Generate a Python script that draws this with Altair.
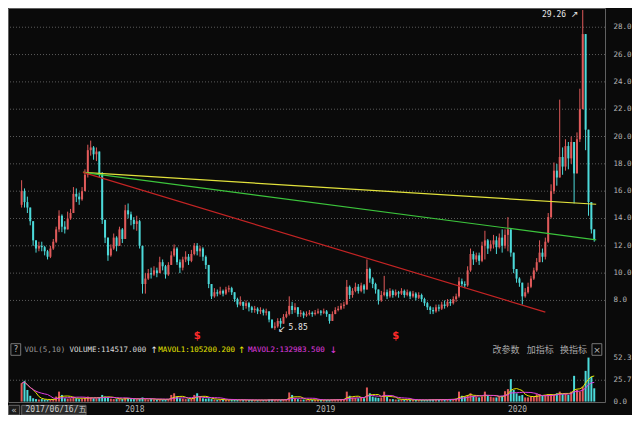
import altair as alt
import pandas as pd

# ---------------- data ----------------
first_open = 15.0
close = [
    16.0, 15.2, 14.8, 13.8, 12.4, 11.8, 12.0, 11.9, 11.6, 11.2,
    11.8, 12.3, 13.2, 14.2, 13.4, 13.2, 14.0, 14.4, 15.8, 15.6,
    15.4, 16.0, 17.2, 19.0, 19.2, 18.7, 18.9, 17.3, 13.9, 12.6,
    11.3, 11.8, 12.6, 12.0, 13.2, 12.5, 14.6, 14.3, 13.9, 13.6,
    13.8, 12.0, 9.2, 9.6, 10.0, 9.9, 10.2, 10.0, 10.8, 10.5,
    9.9, 10.6, 11.3, 11.8, 10.8, 10.4, 11.0, 11.2, 10.9, 11.4,
    12.0, 11.6, 11.8, 11.2, 10.6, 9.2, 8.3, 8.6, 8.5, 8.7,
    8.5, 8.8, 8.9, 8.6, 8.1, 7.7, 7.9, 7.6, 7.8, 7.5,
    7.3, 7.4, 7.2, 7.3, 7.1, 7.2, 6.6, 6.0, 6.1, 6.5,
    6.3, 6.8, 7.0, 7.6, 7.3, 7.5, 7.0, 7.1, 6.9, 7.0,
    7.1, 7.0, 7.1, 7.2, 7.1, 7.2, 7.0, 6.5, 7.0, 7.3,
    7.4, 7.6, 7.7, 9.0, 8.4, 8.7, 9.0, 8.7, 9.1, 8.8,
    10.3, 9.6, 9.2, 8.8, 8.0, 8.4, 8.6, 8.3, 8.7, 8.4,
    8.6, 8.5, 8.7, 8.4, 8.6, 8.3, 8.5, 8.2, 8.4, 8.1,
    7.8, 7.5, 7.3, 7.2, 7.5, 7.4, 7.7, 7.6, 7.9, 7.8,
    8.1, 8.3, 9.4, 9.2, 9.1, 10.2, 11.4, 11.0, 11.3, 10.9,
    12.0, 12.4, 11.8, 12.1, 12.4, 11.9, 12.6, 12.0, 12.8, 13.2,
    11.5, 10.3, 9.6, 9.3, 8.3, 8.6, 9.0, 9.6, 10.2, 10.8,
    11.5, 11.2, 12.3, 14.1, 16.0, 17.5, 17.0, 18.5, 17.8, 19.3,
    18.4, 19.6, 17.3, 19.8, 22.0, 27.5, 20.5, 15.2, 13.2, 12.5,
]
high = [
    16.8, 16.2, 15.6, 14.8, 13.6, 12.4, 12.3, 12.3, 12.0, 11.7,
    12.0, 12.5, 13.4, 14.6, 14.3, 13.8, 14.5, 14.7, 16.3, 16.2,
    15.9, 16.3, 17.6, 19.4, 19.7, 19.3, 19.2, 18.9, 17.4, 13.8,
    12.6, 12.1, 12.9, 12.7, 13.4, 13.3, 15.0, 15.1, 14.5, 14.1,
    14.2, 13.9, 12.0, 10.0, 10.3, 10.4, 10.5, 10.4, 11.2, 11.0,
    10.6, 10.8, 11.6, 12.1, 11.9, 11.0, 11.2, 11.6, 11.4, 11.7,
    12.2, 12.2, 12.0, 11.9, 11.3, 10.6, 9.2, 8.9, 8.8, 9.0,
    8.8, 9.0, 9.1, 9.0, 8.6, 8.2, 8.3, 7.9, 8.0, 7.9,
    7.6, 7.6, 7.5, 7.5, 7.4, 7.4, 7.2, 6.6, 6.4, 6.7,
    6.7, 7.0, 7.2, 8.3, 7.9, 7.8, 7.5, 7.3, 7.2, 7.2,
    7.3, 7.2, 7.3, 7.4, 7.3, 7.4, 7.3, 7.0, 7.2, 7.5,
    7.6, 7.8, 7.9, 9.5, 9.1, 8.9, 9.3, 9.2, 9.3, 9.2,
    11.0, 10.4, 9.7, 9.3, 8.8, 8.7, 9.8, 8.8, 8.9, 8.8,
    8.8, 8.7, 8.9, 8.8, 8.8, 8.7, 8.7, 8.6, 8.6, 8.5,
    8.2, 7.9, 7.6, 7.5, 7.7, 7.7, 7.9, 8.0, 8.1, 8.1,
    8.3, 8.5, 9.7, 9.6, 9.4, 10.5, 11.8, 11.6, 11.5, 11.5,
    12.3, 13.1, 12.5, 12.4, 12.8, 12.7, 12.9, 13.2, 13.2, 14.1,
    13.2, 11.2, 10.3, 9.7, 9.3, 8.9, 9.3, 9.8, 10.4, 11.1,
    12.4, 11.8, 12.6, 14.4, 16.5, 18.1, 18.0, 22.7, 19.2, 19.8,
    19.6, 20.0, 19.5, 20.3, 23.5, 29.26, 23.6, 17.9, 13.8, 13.0,
]
low = [
    14.8, 14.8, 14.4, 13.5, 12.0, 11.5, 11.6, 11.6, 11.3, 11.0,
    11.1, 11.7, 12.2, 13.0, 13.0, 12.9, 13.2, 13.9, 14.4, 15.2,
    15.0, 15.3, 16.0, 17.0, 18.6, 18.3, 18.2, 17.0, 13.6, 12.2,
    10.9, 11.2, 11.7, 11.6, 12.0, 12.2, 12.6, 14.0, 13.5, 13.2,
    13.1, 11.8, 8.5, 8.5, 9.5, 9.6, 9.8, 9.7, 10.0, 10.2,
    9.6, 9.8, 10.6, 11.2, 10.6, 10.0, 10.2, 10.8, 10.6, 10.8,
    11.3, 11.3, 11.2, 10.9, 10.3, 8.9, 8.1, 8.2, 8.3, 8.4,
    8.3, 8.4, 8.6, 8.4, 7.9, 7.5, 7.6, 7.3, 7.4, 7.2,
    7.1, 7.1, 7.0, 7.0, 6.9, 6.9, 6.4, 5.95, 5.85, 6.0,
    6.0, 6.3, 6.7, 6.9, 7.0, 7.1, 6.8, 6.8, 6.7, 6.8,
    6.9, 6.8, 6.9, 7.0, 6.9, 7.0, 6.8, 6.3, 6.5, 7.0,
    7.2, 7.3, 7.4, 7.7, 8.1, 8.2, 8.6, 8.5, 8.6, 8.5,
    8.8, 9.3, 8.9, 8.5, 7.7, 7.9, 8.3, 8.1, 8.2, 8.2,
    8.3, 8.2, 8.4, 8.2, 8.3, 8.1, 8.2, 8.0, 8.1, 7.9,
    7.6, 7.3, 7.0, 7.0, 7.1, 7.2, 7.3, 7.4, 7.5, 7.6,
    7.7, 7.9, 8.2, 9.0, 8.9, 9.0, 10.1, 10.6, 10.8, 10.6,
    10.8, 11.0, 11.4, 11.6, 11.8, 11.4, 11.8, 11.5, 11.8, 11.6,
    11.2, 10.0, 9.3, 9.0, 7.7, 8.2, 8.5, 8.9, 9.5, 10.1,
    10.9, 10.8, 11.0, 12.2, 14.0, 15.8, 16.4, 17.0, 17.2, 17.5,
    17.6, 18.0, 15.1, 17.3, 19.6, 22.0, 19.0, 14.2, 12.9, 12.3,
]
volume = [
    22, 25, 14, 7, 4, 3, 2.5, 3, 2.5, 2,
    2.5, 3, 6, 12, 8, 4, 3.5, 4, 6, 4,
    3, 3.5, 4.5, 6, 5, 4, 4, 5, 8, 6,
    5, 3.5, 3, 3, 3.5, 3, 4.5, 4, 3, 3,
    3, 3.5, 5, 3, 2.5, 3, 2.5, 2.5, 3, 2.5,
    2.5, 3, 8, 10, 6, 4, 3.5, 3, 3, 3.5,
    8, 10, 6, 4, 3.5, 4, 3, 2.5, 2, 2,
    2.5, 2, 2, 2.5, 2.5, 2, 2, 2, 1.8, 1.8,
    2, 1.8, 1.8, 2, 1.8, 2, 2.5, 2.5, 2, 2,
    2, 2.5, 3, 11, 8, 4, 3, 2.5, 2.5, 2,
    2, 2, 2, 2, 2, 2, 2, 2, 2.5, 2.5,
    2.5, 2.5, 3, 12, 7, 5, 4.5, 4, 5, 4,
    17, 10, 6, 5, 4.5, 5, 12, 6, 3, 3,
    2.5, 2.5, 2.5, 2.5, 2, 2, 2, 2, 2, 2,
    2, 2, 2.5, 2.5, 2.5, 2.5, 2.5, 2.5, 2.5, 3,
    3, 3.5, 12, 7, 6, 8, 10, 7, 6, 5,
    6, 12, 8, 6, 5, 5, 6, 7, 12.5, 15,
    27, 14, 10, 7, 8, 5, 5, 6, 6, 9,
    9, 7, 8, 9, 9, 8, 10, 12, 9, 10,
    8, 12, 31, 14, 12, 18, 37, 53, 30, 16,
]
price_ticks = [8, 10, 12, 14, 16, 18, 20, 22, 24, 26, 28]
vol_ticks = [0, 25.7, 52.3]
vol_grid = [25.7]
dividend_idx = [61, 130]
year_idx = [36, 102.33, 169]
year_lbl = ["2018", "2019", "2020"]
trend_x1 = [21.33, 21.33, 21.33]
trend_y1 = [17.37, 17.37, 17.37]
trend_x2 = [199.67, 199.67, 182.0]
trend_y2 = [15.04, 12.44, 7.15]
trend_col = ["#e2e23c", "#3cc43c", "#c42424"]

# ---------------- tables ----------------
UP, DN = "#e05a5a", "#4cdada"
n = len(close)
opens = [first_open] + close[:-1]
df = pd.DataFrame({"i": list(range(n)), "open": opens, "close": close,
                   "high": high, "low": low, "vol": volume})
df["high"] = df[["high", "open", "close"]].max(axis=1)
df["low"] = df[["low", "open", "close"]].min(axis=1)
df["col"] = [UP if c >= o else DN for o, c in zip(df["open"], df["close"])]

trend = pd.DataFrame({"x1": trend_x1, "y1": trend_y1, "x2": trend_x2,
                      "y2": trend_y2, "c": trend_col})
pk = df.loc[df["high"].idxmax()]
lo = df.loc[df["low"].idxmin()]
pk_df = pd.DataFrame({"i": [pk["i"]], "v": [pk["high"]], "t": [f"{pk['high']:.2f}"]})
lo_df = pd.DataFrame({"i": [lo["i"]], "v": [lo["low"]], "t": [f"{lo['low']:.2f}"]})
div_df = pd.DataFrame({"i": dividend_idx})
vgrid_df = pd.DataFrame({"v": vol_grid})
ptick_df = pd.DataFrame({"v": price_ticks})
vtick_df = pd.DataFrame({"v": vol_ticks})
year_df = pd.DataFrame({"i": year_idx, "l": year_lbl})

MONO = "DejaVu Sans Mono"
CJK = "Noto Sans CJK SC"
BG = "#0a0a0a"
GRID = "#5c5c5c"
LBL = "#b4b4b4"

W, H = 597, 394
xs = alt.Scale(domain=[-3, 201], nice=False, zero=False)
ps = alt.Scale(domain=[0.566, 29.408], nice=False, zero=False)
vs = alt.Scale(domain=[-0.5, 474], nice=False, zero=False)

X = alt.X("i:Q", scale=xs, axis=None)
col = alt.Color("col:N", scale=None)
base = alt.Chart(df)

# ---------------- price panel ----------------
pgrid = alt.Chart(ptick_df).mark_rule(color=GRID, strokeDash=[1, 2]).encode(
    y=alt.Y("v:Q", scale=ps, axis=None))
plbl = alt.Chart(ptick_df).mark_text(align="left", baseline="middle", color=LBL,
                                     font=MONO, fontSize=7.5).encode(
    x=alt.value(605.5), y=alt.Y("v:Q", scale=ps, axis=None),
    text=alt.Text("v:Q", format=".1f"))
wick = base.mark_rule(strokeWidth=1).encode(
    x=X, y=alt.Y("low:Q", scale=ps, axis=None), y2="high:Q", color=col)
body = base.mark_bar(width=2).encode(
    x=X, y=alt.Y("open:Q", scale=ps, axis=None), y2="close:Q", color=col)
tl = alt.Chart(trend).mark_rule(strokeWidth=1.2).encode(
    x=alt.X("x1:Q", scale=xs, axis=None), x2="x2:Q",
    y=alt.Y("y1:Q", scale=ps, axis=None), y2="y2:Q",
    color=alt.Color("c:N", scale=None))
pk_t = alt.Chart(pk_df).mark_text(align="right", baseline="middle", dx=-16.6, dy=4.7,
                                  color="#e8e8e8", font=MONO, fontSize=8).encode(
    x=X, y=alt.Y("v:Q", scale=ps, axis=None), text="t:N")
pk_a = alt.Chart(pk_df).mark_text(text="↗", align="center", baseline="middle", dx=-8, dy=3.5,
                                  color="#e8e8e8", font="DejaVu Sans", fontSize=9).encode(
    x=X, y=alt.Y("v:Q", scale=ps, axis=None))
lo_t = alt.Chart(lo_df).mark_text(align="left", baseline="middle", dx=13.6, dy=-2,
                                  color="#e8e8e8", font=MONO, fontSize=8).encode(
    x=X, y=alt.Y("v:Q", scale=ps, axis=None), text="t:N")
lo_a = alt.Chart(lo_df).mark_text(text="↙", align="center", baseline="middle", dx=7, dy=-1,
                                  color="#e8e8e8", font="DejaVu Sans", fontSize=9).encode(
    x=X, y=alt.Y("v:Q", scale=ps, axis=None))
divm = alt.Chart(div_df).mark_text(text="$", align="center", baseline="middle",
                                   color="#ff2a2a", font="DejaVu Sans", fontSize=10,
                                   fontWeight="bold").encode(x=X, y=alt.value(328))
ylbl = alt.Chart(year_df).mark_text(align="left", baseline="top", color=LBL,
                                    font=MONO, fontSize=8).encode(
    x=X, y=alt.value(398), text="l:N")

price = alt.layer(pgrid, plbl, wick, body, tl, pk_t, pk_a, lo_t, lo_a, divm, ylbl)

# ---------------- volume panel ----------------
vg = alt.Chart(vgrid_df).mark_rule(color=GRID, strokeDash=[1, 2]).encode(
    y=alt.Y("v:Q", scale=vs, axis=None))
vlbl = alt.Chart(vtick_df).mark_text(align="left", baseline="middle", color=LBL,
                                     font=MONO, fontSize=7.5).encode(
    x=alt.value(605.5), y=alt.Y("v:Q", scale=vs, axis=None),
    text=alt.Text("v:Q", format=".1f"))
vb = base.mark_bar(width=2).encode(
    x=X, y=alt.Y("vol:Q", scale=vs, axis=None), y2=alt.datum(0), color=col)
ma1 = base.transform_window(ma="mean(vol)", frame=[-4, 0], sort=[alt.SortField("i")]
                            ).mark_line(color="#e6e600", strokeWidth=1).encode(
    x=X, y=alt.Y("ma:Q", scale=vs, axis=None))
ma2 = base.transform_window(ma="mean(vol)", frame=[-9, 0], sort=[alt.SortField("i")]
                            ).mark_line(color="#e03ce0", strokeWidth=1).encode(
    x=X, y=alt.Y("ma:Q", scale=vs, axis=None))
vol = alt.layer(vg, vlbl, vb, ma1, ma2)


def txt(s, x, y, color, size=7.5, font=MONO, align="left"):
    return alt.Chart(alt.Data(values=[{"a": 1}])).mark_text(
        text=s, align=align, baseline="middle", color=color, fontSize=size, font=font
    ).encode(x=alt.value(x), y=alt.value(y))


def box(x1, x2, y1, y2, fill, stroke):
    return alt.Chart(alt.Data(values=[{"a": 1}])).mark_rect(
        fill=fill, stroke=stroke, strokeWidth=1
    ).encode(x=alt.value(x1), x2=alt.value(x2), y=alt.value(y1), y2=alt.value(y2))


HY = 341.5
ui = alt.layer(
    box(2.9, 12.7, 335.7, 347.3, BG, "#777777"),
    txt("?", 7.8, HY, "#bbbbbb", 8, MONO, "center"),
    txt("VOL(5,10)", 16.6, HY, "#9a9a9a"),
    txt("VOLUME:114517.000", 61.4, HY, "#dcdcdc"),
    txt("↑", 142.4, HY, "#e8e8e8", 9, "DejaVu Sans"),
    txt("MAVOL1:105200.200", 150.2, HY, "#e6e600"),
    txt("↑", 230.1, HY, "#e6e600", 9, "DejaVu Sans"),
    txt("MAVOL2:132983.500", 239.9, HY, "#e03ce0"),
    txt("↓", 321.8, HY, "#e03ce0", 9, "DejaVu Sans"),
    txt("改参数", 484.6, HY, "#a8a8a8", 9, CJK),
    txt("加指标", 518.7, HY, "#a8a8a8", 9, CJK),
    txt("换指标", 551.9, HY, "#a8a8a8", 9, CJK),
    box(584, 593.8, 335.7, 347.3, BG, "#777777"),
    txt("×", 588.9, HY, "#bbbbbb", 9, "DejaVu Sans", "center"),
    box(0.5, 11.7, 397.3, 407, "#1c1c1c", "#666666"),
    txt("«", 6.1, 402, "#bbbbbb", 9, "DejaVu Sans", "center"),
    box(13.7, 78, 397.3, 407, "#2c2c2c", "#666666"),
    txt("2017/06/16/五", 17.5, 402, "#d0d0d0", 8, MONO + ", " + CJK),
)

chart = alt.layer(price, vol, ui).resolve_scale(y="independent").properties(
    width=W, height=H,
    autosize=alt.AutoSizeParams(type="none"),
    padding={"left": 0, "top": 0, "right": 27, "bottom": 13},
    background=BG,
).configure_view(stroke="#606060", strokeWidth=1, fill=BG)

chart.save("out.html", embed_options={"renderer": "svg", "actions": False})
